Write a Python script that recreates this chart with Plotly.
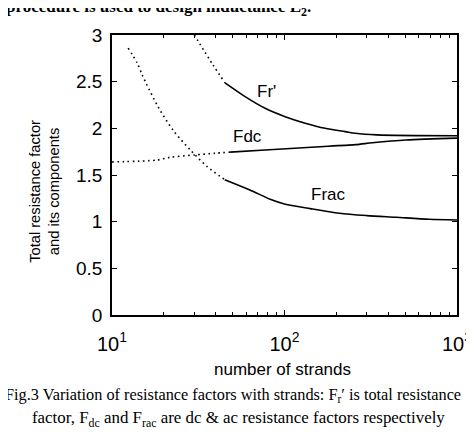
import math
import plotly.graph_objects as go

# number of strands (x) and resistance factors
fr_strands = [30, 38.5, 45.2, 59.1, 77.2, 100.9, 131.8, 172, 225, 257, 343, 1000]
fr_total = [3.0, 2.68, 2.487, 2.34, 2.215, 2.125, 2.055, 2.00, 1.965, 1.947, 1.93, 1.92]

fdc_strands = [10, 18.2, 21.7, 30.3, 39.6, 48.4, 77.2, 151, 257, 323, 505, 1000]
fdc_values = [1.64, 1.66, 1.69, 1.715, 1.733, 1.745, 1.768, 1.80, 1.825, 1.845, 1.875, 1.895]

frac_strands = [12.4, 14.0, 14.9, 15.7, 18.5, 22.6, 28.4, 35.6, 45, 63, 82.6, 100,
                141, 208, 300, 443, 689, 1000]
frac_values = [2.86, 2.70, 2.58, 2.49, 2.23, 1.98, 1.77, 1.59, 1.45, 1.34, 1.24, 1.19,
               1.14, 1.09, 1.065, 1.047, 1.026, 1.018]

# below this strand count the curves are drawn dotted
n_min = 45

y_ticks = [0, 0.5, 1, 1.5, 2, 2.5, 3]
x_ticks = [10, 100, 1000]
x_ticktext = ['10<sup>1</sup>', '10<sup>2</sup>', '10<sup>3</sup>']
x_minor = [20, 30, 40, 50, 60, 70, 80, 90, 200, 300, 400, 500, 600, 700, 800, 900]

curves = [
    (fr_strands, fr_total, "Fr'", 79, 2.40),
    (fdc_strands, fdc_values, 'Fdc', 61, 1.91),
    (frac_strands, frac_values, 'Frac', 179, 1.29),
]

fig = go.Figure()
labels = []
for xs, ys, name, lx, ly in curves:
    dot = [(x, y) for x, y in zip(xs, ys) if x <= n_min]
    solid = [(x, y) for x, y in zip(xs, ys) if x >= n_min]
    if dot and dot[-1][0] < n_min:
        dot.append(solid[0])
    fig.add_trace(go.Scatter(
        x=[p[0] for p in dot], y=[p[1] for p in dot], mode='lines',
        line=dict(color='black', width=1.6, dash='1.6px,3.5px', shape='spline', smoothing=0.8),
        showlegend=False))
    fig.add_trace(go.Scatter(
        x=[p[0] for p in solid], y=[p[1] for p in solid], mode='lines',
        line=dict(color='black', width=1.6, shape='spline', smoothing=0.8),
        showlegend=False))
    # log axis: annotation x is given as log10 of the value
    labels.append(dict(x=math.log10(lx), y=ly, xref='x', yref='y', text=name, showarrow=False,
                       font=dict(size=17, color='black')))

sans = 'Arial, Liberation Sans, sans-serif'
serif = 'Times New Roman, Liberation Serif, serif'


def paper_note(x, y, text, size, family, xanchor='center', **kw):
    return dict(x=x, y=y, xref='paper', yref='paper', xanchor=xanchor, yanchor='middle',
                text=text, showarrow=False, font=dict(size=size, color='black', family=family), **kw)


notes = labels + [
    paper_note(-0.194, 0.44, 'Total resistance factor<br>and its components', 14.7, sans, textangle=-90),
    paper_note(0.493, -0.196, 'number of strands', 17, sans),
    paper_note(0.351, -0.286,
               "Fig.3 Variation of resistance factors with strands: F<sub>r</sub>\u2032 is total resistance",
               16.3, serif),
    paper_note(0.368, -0.371,
               'factor, F<sub>dc</sub> and F<sub>rac</sub> are dc &amp; ac resistance factors respectively',
               16.9, serif),
    paper_note(-0.312, 1.096, '<b>procedure is used to design inductance L<sub>2</sub>.</b>',
               17, serif, xanchor='left'),
]

# page body adds an 8px margin, so the figure is kept smaller than the window
fig.update_layout(
    width=466, height=424,
    margin=dict(l=104, r=17, t=27, b=117),
    paper_bgcolor='white', plot_bgcolor='white',
    font=dict(family=sans, color='black'),
    annotations=notes,
)
fig.update_xaxes(
    type='log', range=[1, 3], tickvals=x_ticks, ticktext=x_ticktext,
    ticks='inside', ticklen=5, tickcolor='black', showgrid=False,
    showline=True, linecolor='black', linewidth=1.5, mirror='ticks',
    tickfont=dict(size=20), zeroline=False, automargin=False, ticklabelstandoff=10,
    ticklabeloverflow='allow',
    minor=dict(tickvals=x_minor, ticks='inside', ticklen=3, tickcolor='black', showgrid=False),
)
fig.update_yaxes(
    range=[0, 3], tickvals=y_ticks, ticks='inside', ticklen=5, tickcolor='black',
    showgrid=False, showline=True, linecolor='black', linewidth=1.5, mirror='ticks',
    tickfont=dict(size=19), zeroline=False, ticklabelstandoff=4, automargin=False,
)

fig.write_html('out.html')
